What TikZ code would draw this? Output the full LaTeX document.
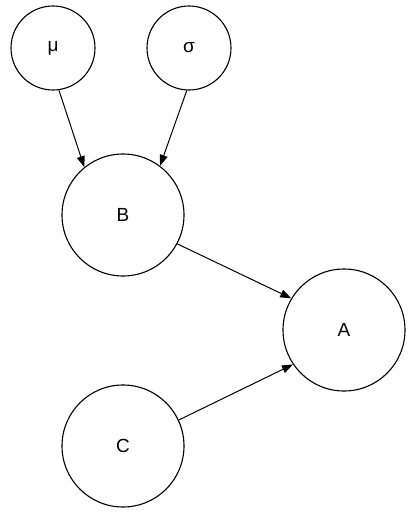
\documentclass[tikz,border=0pt]{standalone}
\usepackage{fontspec}
\setmainfont{Liberation Sans}
\usepackage{tikz}
\usetikzlibrary{shapes, arrows.meta, positioning}

\tikzset{
  var/.style={circle, draw, line width=1.1pt, inner sep=0pt, font=\fontsize{19}{22}\selectfont},
  hyper/.style={var, minimum size=84pt},
  rv/.style={var, minimum size=122pt},
  edge/.style={line width=1pt, -{Triangle[length=11pt,width=8pt]}}
}

\begin{document}
\begin{tikzpicture}[x=1pt,y=-1pt]
\useasboundingbox (0,0) rectangle (420,514);
% parameters
\node [hyper] (mu) at (53,48) {μ};
\node [hyper] (sigma) at (189,48) {σ};
% variables
\node [rv] (B) at (123,215) {B};
\node [rv] (A) at (344,330) {A};
\node [rv] (C) at (123,446) {C};
\draw [edge] (mu.-82) -- (B.129);
\draw [edge] (sigma.-93) -- (B.53);
\draw [edge] (B.-28) -- (A.149);
\draw [edge] (C.25) -- (A.214);
\end{tikzpicture}
\end{document}
